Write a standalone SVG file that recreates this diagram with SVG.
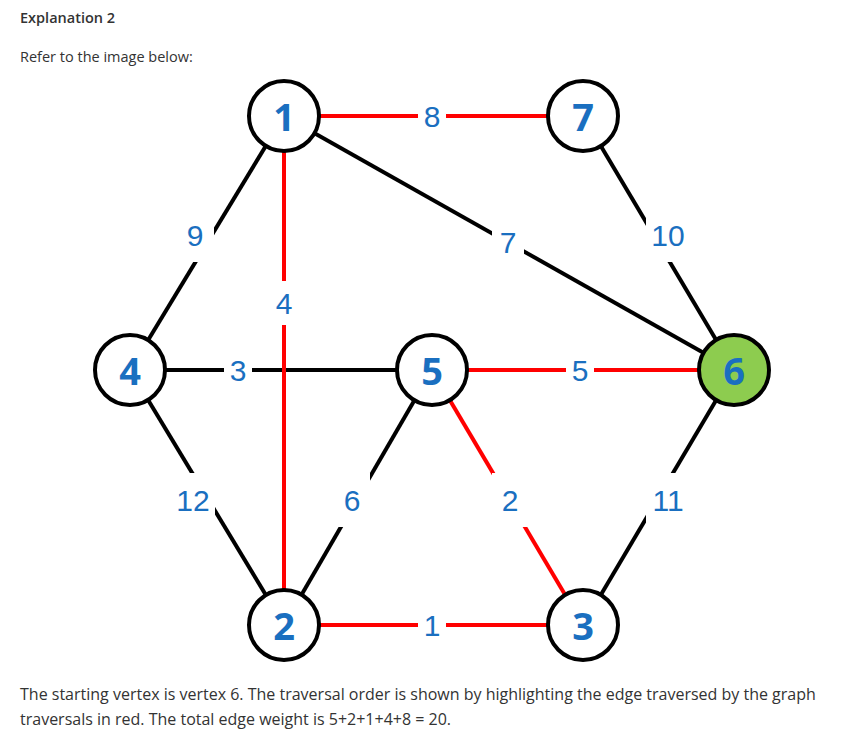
<svg xmlns="http://www.w3.org/2000/svg" width="863" height="750" viewBox="0 0 863 750">
<style>
.hd{font-family:"Open Sans",sans-serif;font-size:14.5px;fill:#333}
.tx{font-family:"Open Sans",sans-serif;font-size:16px;fill:#333}
.k{stroke:#000;stroke-width:4;fill:none}
.r{stroke:#f00;stroke-width:4;fill:none}
.bg{fill:#fff}
.lb{font-family:"Liberation Sans",Arial,sans-serif;font-size:30px;fill:#1a6fc0;text-anchor:middle;dominant-baseline:central}
.n circle{stroke:#000;stroke-width:4;fill:#fff}
.n text{font-family:"Open Sans",sans-serif;font-weight:bold;font-size:38px;fill:#1a6fc0;text-anchor:middle;dominant-baseline:central}
</style>
<rect width="863" height="750" fill="#fff"/>
<text class="hd" x="20" y="23" font-weight="600">Explanation 2</text>
<text class="hd" x="20" y="62">Refer to the image below:</text>
<g id="connectors">
<line class="k" x1="284" y1="116" x2="130" y2="370"/>
<line class="k" x1="284" y1="116" x2="734" y2="370"/>
<line class="k" x1="583" y1="116" x2="734" y2="370"/>
<line class="k" x1="130" y1="370" x2="432" y2="370"/>
<line class="k" x1="130" y1="370" x2="284" y2="625"/>
<line class="k" x1="432" y1="370" x2="284" y2="625"/>
<line class="k" x1="734" y1="370" x2="583" y2="625"/>
<line class="r" x1="284" y1="116" x2="583" y2="116"/>
<line class="r" x1="284" y1="116" x2="284" y2="625"/>
<line class="r" x1="432" y1="370" x2="734" y2="370"/>
<line class="r" x1="432" y1="370" x2="583" y2="625"/>
<line class="r" x1="284" y1="625" x2="583" y2="625"/>
<rect class="bg" x="418" y="98" width="28" height="36"/><text class="lb" x="432" y="116">8</text>
<rect class="bg" x="176" y="208" width="38" height="54"/><text class="lb" x="195" y="235">9</text>
<rect class="bg" x="492" y="222" width="32" height="40"/><text class="lb" x="508" y="242">7</text>
<rect class="bg" x="646" y="208" width="44" height="54"/><text class="lb" x="668" y="235">10</text>
<rect class="bg" x="270" y="281" width="28" height="44"/><text class="lb" x="284" y="303">4</text>
<rect class="bg" x="224" y="352" width="28" height="36"/><text class="lb" x="238" y="370">3</text>
<rect class="bg" x="566" y="352" width="28" height="36"/><text class="lb" x="580" y="370">5</text>
<rect class="bg" x="171" y="473" width="44" height="54"/><text class="lb" x="193" y="500">12</text>
<rect class="bg" x="334" y="473" width="36" height="54"/><text class="lb" x="352" y="500">6</text>
<rect class="bg" x="492" y="473" width="36" height="54"/><text class="lb" x="510" y="500">2</text>
<rect class="bg" x="646" y="473" width="44" height="54"/><text class="lb" x="668" y="500">11</text>
<rect class="bg" x="418" y="607" width="28" height="36"/><text class="lb" x="432" y="625">1</text>
</g>
<g id="n1" class="n"><circle cx="284" cy="116" r="35"/><text x="284" y="116">1</text></g>
<g id="n7" class="n"><circle cx="583" cy="116" r="35"/><text x="583" y="116">7</text></g>
<g id="n4" class="n"><circle cx="130" cy="370" r="35"/><text x="130" y="370">4</text></g>
<g id="n5" class="n"><circle cx="432" cy="370" r="35"/><text x="432" y="370">5</text></g>
<g id="n6" class="n"><circle cx="734" cy="370" r="35" style="fill:#8dcc4f"/><text x="734" y="370">6</text></g>
<g id="n2" class="n"><circle cx="284" cy="625" r="35"/><text x="284" y="625">2</text></g>
<g id="n3" class="n"><circle cx="583" cy="625" r="35"/><text x="583" y="625">3</text></g>
<text class="tx" x="20" y="700">The starting vertex is vertex 6. The traversal order is shown by highlighting the edge traversed by the graph</text>
<text class="tx" x="20" y="725">traversals in red. The total edge weight is 5+2+1+4+8 = 20.</text>
</svg>
